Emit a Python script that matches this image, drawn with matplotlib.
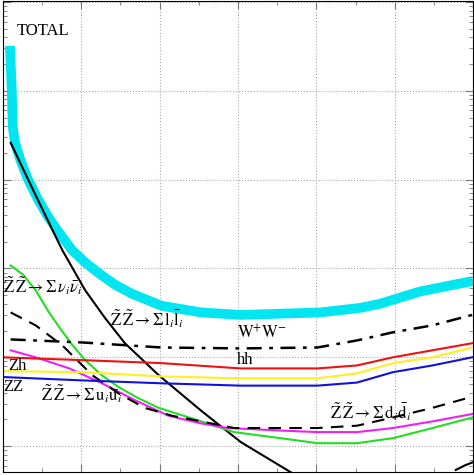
import matplotlib
matplotlib.use("Agg")
import matplotlib.pyplot as plt
from matplotlib.ticker import MultipleLocator, LogLocator, NullFormatter

plt.rcParams['mathtext.fontset'] = 'stix'
plt.rcParams['font.family'] = ['Liberation Serif', 'DejaVu Serif']

tot_x = [45, 50, 57, 63, 76, 110, 158, 220, 285, 360, 443, 530, 633, 720, 823, 1013, 1266, 1519, 1772, 2026, 2279, 2405, 2659, 2975, 3000]
tot_y = [32, 20, 10, 4.0, 2.7, 1.7, 1.03, 0.62, 0.39, 0.25, 0.16, 0.115, 0.083, 0.065, 0.052, 0.038, 0.032, 0.030, 0.031, 0.032, 0.036, 0.040, 0.055, 0.071, 0.072]

ll_x = [50, 158, 270, 380, 525, 650, 779, 994, 1266, 1519, 1836, 2100]
ll_y = [2.6, 1.03, 0.40, 0.16, 0.057, 0.028, 0.0144, 0.0063, 0.0025, 0.00111, 0.00051, 0.0003]

nn_x = [50, 130, 209, 290, 361, 440, 525, 630, 741, 860, 994, 1266, 1475, 1772, 2007, 2260, 2488, 2741, 2994]
nn_y = [0.108, 0.085, 0.057, 0.033, 0.0217, 0.0140, 0.0093, 0.0063, 0.0046, 0.0035, 0.0027, 0.0019, 0.00144, 0.00123, 0.00108, 0.00108, 0.00123, 0.0016, 0.0021]

uu_x = [50, 209, 424, 633, 842, 1057, 1266, 1437, 1772, 2007, 2260, 2488, 2741, 2994]
uu_y = [0.012, 0.0100, 0.0075, 0.0051, 0.0033, 0.0022, 0.0018, 0.0016, 0.0015, 0.00144, 0.00144, 0.0016, 0.0019, 0.0023]

dd_x = [50, 209, 380, 570, 741, 905, 1080, 1266, 1475, 1728, 2007, 2260, 2488, 2741, 2994]
dd_y = [0.032, 0.0229, 0.0136, 0.0063, 0.0039, 0.0027, 0.0022, 0.0019, 0.0016, 0.0016, 0.0016, 0.0017, 0.0021, 0.0027, 0.0036]

ww_x = [50, 506, 1013, 1519, 2007, 2260, 2488, 2741, 2994]
ww_y = [0.0159, 0.0147, 0.0129, 0.0126, 0.0129, 0.0155, 0.0191, 0.0229, 0.030]

hh_x = [0, 506, 1013, 1519, 2007, 2260, 2488, 2741, 2994]
hh_y = [0.0100, 0.0093, 0.0086, 0.0075, 0.0075, 0.0081, 0.0100, 0.0120, 0.0144]

zh_x = [0, 506, 1013, 1519, 2007, 2260, 2488, 2741, 2994]
zh_y = [0.0070, 0.0068, 0.0061, 0.0058, 0.0058, 0.0066, 0.0086, 0.0100, 0.0129]

zz_x = [0, 506, 1013, 1519, 2007, 2260, 2488, 2741, 2994]
zz_y = [0.0060, 0.0055, 0.0051, 0.0048, 0.0048, 0.0052, 0.0068, 0.0081, 0.0100]

tail_x = [2890, 2950, 3000]
tail_y = [0.00054, 0.00061, 0.00066]

fig = plt.figure(figsize=(4.74, 4.75), dpi=100)
ax = fig.add_axes([0.006, 0.006, 0.992, 0.992])
ax.set_yscale('log')
ax.set_xlim(0, 3000)
ax.set_ylim(5.1e-4, 102.6)

ax.plot(tot_x, tot_y, color='#00e5f0', lw=7, solid_capstyle='butt', solid_joinstyle='round')
ax.plot(ll_x, ll_y, color='black', lw=1.5)
ax.plot(nn_x, nn_y, color='#22dd22', lw=1.5)
ax.plot(uu_x, uu_y, color='#ee22ee', lw=1.5)
ax.plot(dd_x, dd_y, color='black', lw=1.5, dashes=(6, 4))
ax.plot(ww_x, ww_y, color='black', lw=1.8, dashes=(6, 3, 1.5, 3))
ax.plot(hh_x, hh_y, color='#ee1111', lw=1.5)
ax.plot(zh_x, zh_y, color='#ffee22', lw=1.5)
ax.plot(zz_x, zz_y, color='#1111dd', lw=1.5)
ax.plot(tail_x, tail_y, color='black', lw=1.5)

ax.xaxis.set_major_locator(MultipleLocator(500))
ax.xaxis.set_minor_locator(MultipleLocator(250))
ax.yaxis.set_major_locator(LogLocator(base=10, numticks=20))
ax.yaxis.set_minor_locator(LogLocator(base=10, subs=range(2, 10), numticks=100))
ax.xaxis.set_major_formatter(NullFormatter())
ax.yaxis.set_major_formatter(NullFormatter())
ax.yaxis.set_minor_formatter(NullFormatter())
ax.tick_params(which='both', direction='in', top=True, right=True, color='#777777')
ax.tick_params(which='major', length=6)
ax.tick_params(which='minor', length=3)
ax.grid(True, which='major', ls=':', color='#aaaaaa', lw=0.8)

def t(px, py, s):
    ax.text(px / 474, 1 - py / 472, s, transform=ax.transAxes, fontsize=12, va='center', ha='left')

t(14, 30, 'TOTAL')
t(0, 285, r'$\tilde{\mathrm{Z}}\,\tilde{\mathrm{Z}}\rightarrow\Sigma\,\nu_i\bar{\nu}_i$')
t(108, 318, r'$\tilde{\mathrm{Z}}\,\tilde{\mathrm{Z}}\rightarrow\Sigma\,\mathrm{l}_i\bar{\mathrm{l}}_i$')
t(236, 333, r'$\mathrm{W}^{+}\mathrm{W}^{-}$')
t(236, 360, 'hh')
t(5, 366, 'Zh')
t(0, 387, 'ZZ')
t(38, 393, r'$\tilde{\mathrm{Z}}\,\tilde{\mathrm{Z}}\rightarrow\Sigma\,\mathrm{u}_i\bar{\mathrm{u}}_i$')
t(330, 412, r'$\tilde{\mathrm{Z}}\,\tilde{\mathrm{Z}}\rightarrow\Sigma\,\mathrm{d}_i\bar{\mathrm{d}}_i$')

fig.savefig('out.png', dpi=100)
